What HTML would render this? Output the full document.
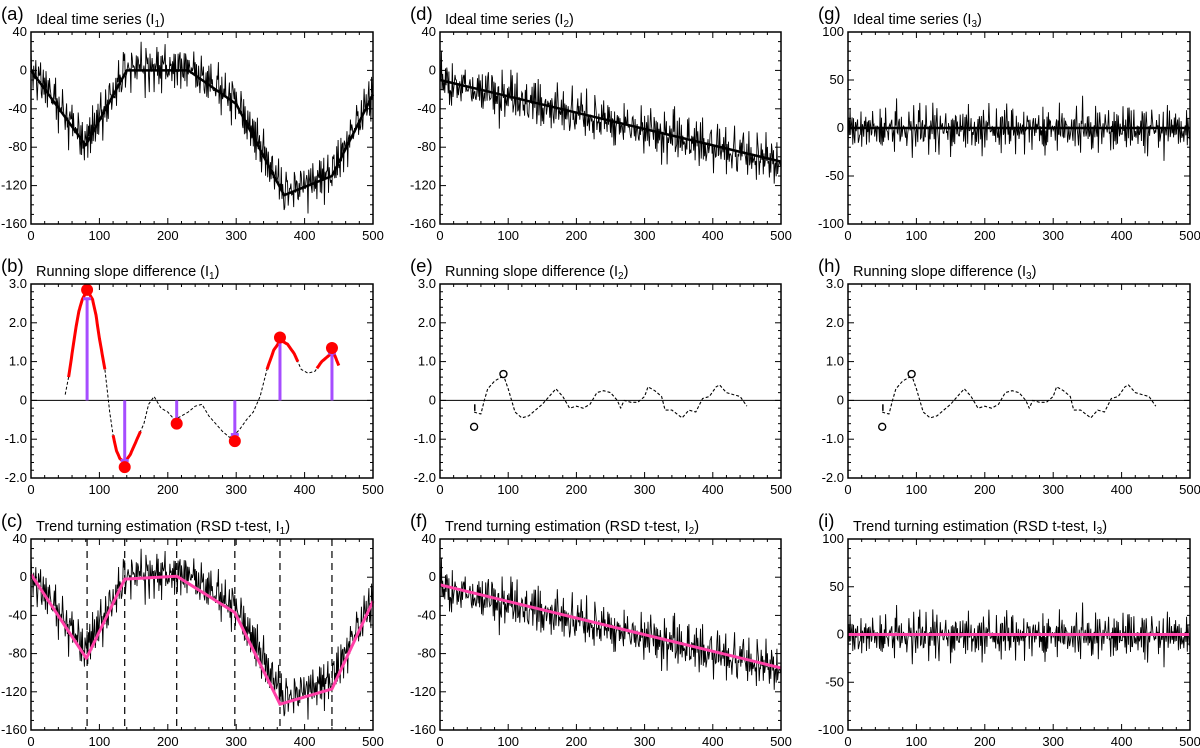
<!DOCTYPE html>
<html><head><meta charset="utf-8">
<style>
html,body{margin:0;padding:0;background:#fff;}
svg{display:block;font-family:"Liberation Sans",sans-serif;}
</style></head>
<body>
<svg id="chart" width="1200" height="748" viewBox="0 0 1200 748"></svg>
<script>
// ---- data ----
const xTicks = [0,100,200,300,400,500];
const yTicksTS = [40,0,-40,-80,-120,-160];
const yTicksI3 = [100,50,0,-50,-100];
const yTicksRSD = [3,2,1,0,-1,-2];
const yTicksRSDLabels = ["3.0","2.0","1.0","0","-1.0","-2.0"];
// noise texture
const noise = [18,-6,4,-12,9,-20,3,14,-8,-15,6,22,-4,-10,12,-3,-18,7,16,-9,2,-14,11,5,-22,8,-2,19,-11,4,-7,13,-16,1,10,-5,24,-13,6,-1,-19,15,-8,3,9,-12,20,-6,-3,11,-17,5,14,-10,2,-21,7,17,-4,-9,12,-14,0,8,-6,21,-11,4,-18,13,6,-2,-15,10,-7,16,-12,3,-20,9,1,-8,18,-13,5,-4,12,-16,7,-1,23,-10,-5,14,-19,8,2,-11,15,-6,-9,6,19,-14,3,-17,11,0,-7,13,-3,-12,16,-21,9,4,-8,17,-15,2,10,-5,-18,7,14,-9,1,-13,20,-6,-2,12,-16,5,-10,18,-4,8,-19,11,3,-12,15,-7,-1,9,-22,13,6,-15,4,17,-8,-3,11,-14,7,21,-10,2,-17,12,-5,8,-11,16,-2,-20,10,5,-13,14,-6,-9,19,-16,3,7,-4,12,-18,9,-1,-12,15,-8,22,-14,4,-6,11,-19,6,13,-3,-10,17,-15,1,8,-7,14,-21,10,-2,5,-12,18,-9,3,-16,13,-4,7,-11,20,-13,0,9,-17,12,6,-8,-3,16,-14,4,11,-20,8,-5,15,-10,2,-7,19,-12,5];
// trend breakpoints
const i1IdealX = [0,80,140,230,300,370,440,500];
const i1IdealY = [0,-78,0,0,-35,-130,-110,-25];
const i1FitX = [0,81,137,213,298,364,440,500];
const i1FitY = [3,-85,-2,1,-37,-133,-117,-25];
const i2X = [0,500];
const i2Y = [-10,-95];
const i3X = [0,500];
const i3Y = [0,0];
// running slope difference I1
const rsd1X = [50,55,60,65,70,75,82,90,95,100,108,115,120,125,130,137,145,155,165,172,180,190,200,210,220,230,240,250,260,270,280,290,297,305,315,325,335,345,355,365,375,385,395,405,415,425,435,442,450];
const rsd1Y = [0.15,0.6,1.2,1.8,2.3,2.6,2.85,2.6,2.2,1.6,0.8,-0.3,-0.9,-1.3,-1.5,-1.6,-1.4,-1.0,-0.6,-0.1,0.1,-0.2,-0.3,-0.5,-0.4,-0.3,-0.15,-0.1,-0.4,-0.6,-0.8,-0.95,-0.9,-0.75,-0.5,-0.3,0.1,0.8,1.3,1.55,1.45,1.2,0.8,0.7,0.75,1.0,1.15,1.25,0.9];
const rsd1RedRanges = [[55,108],[120,160],[345,390],[418,450]];
const turnX = [82,137,213,298,364,440];
const turnDotY = [2.85,-1.72,-0.6,-1.05,1.62,1.35];
const turnBarY = [2.62,-1.55,-0.5,-0.88,1.55,1.22];
// running slope difference I2/I3
const rsd2X = [50,55,60,65,70,80,90,95,100,105,110,120,130,140,150,160,170,180,190,200,210,220,230,240,250,260,265,270,280,290,300,305,315,325,330,340,355,365,375,385,395,405,410,420,430,440,450];
const rsd2Y = [-0.3,-0.33,-0.35,0,0.3,0.5,0.6,0.55,0.3,0,-0.3,-0.45,-0.4,-0.25,-0.1,0.1,0.3,0.1,-0.2,-0.15,-0.2,-0.1,0.2,0.25,0.2,0,-0.2,0,-0.05,-0.05,0.1,0.35,0.25,0.1,-0.25,-0.25,-0.45,-0.25,-0.3,0.05,0.1,0.35,0.4,0.2,0.15,0.1,-0.15];
const rsd2CircX = [50,93];
const rsd2CircY = [-0.68,0.68];

const NS = "http://www.w3.org/2000/svg";
const svg = document.getElementById("chart");
function el(tag, attrs, parent){const e=document.createElementNS(NS,tag);for(const k in attrs)e.setAttribute(k,attrs[k]);(parent||svg).appendChild(e);return e;}
function interp(xs,ys,x){for(let i=0;i<xs.length-1;i++){if(x>=xs[i]&&x<=xs[i+1]){const t=(x-xs[i])/(xs[i+1]-xs[i]);return ys[i]+t*(ys[i+1]-ys[i]);}}return ys[ys.length-1];}

function panel(cfg){
  const g = el("g",{});
  
  
  const sx = v => cfg.x0 + (v-0)/(500-0)*(cfg.x1-cfg.x0);
  const sy = v => cfg.y0 + (cfg.ymax-v)/(cfg.ymax-cfg.ymin)*(cfg.y1-cfg.y0);
  cfg.sx=sx; cfg.sy=sy; cfg.g=g;
  const lt = el("text",{x:cfg.x0-30,y:cfg.y0-12,"font-size":18.5,fill:"#000"},g); lt.textContent=cfg.letter;
  
  
  const tt = el("text",{x:cfg.x0+5,y:cfg.y0-8,"font-size":14.5,fill:"#000"},g);
  tt.innerHTML = cfg.title;
  
  
  for(let v=0; v<=500; v+=20){
    const major = v%100===0;
    const L = major?6:3;
    el("line",{x1:sx(v),x2:sx(v),y1:cfg.y1,y2:cfg.y1-L,stroke:"#000","stroke-width":1},g);
    el("line",{x1:sx(v),x2:sx(v),y1:cfg.y0,y2:cfg.y0+L,stroke:"#000","stroke-width":1},g);
  }
  xTicks.forEach(v=>{const t=el("text",{x:sx(v),y:cfg.y1+16,"font-size":13,"text-anchor":"middle"},g);t.textContent=v;
    
    });
  const step = cfg.minor;
  for(let v=cfg.ymin; v<=cfg.ymax+1e-9; v+=step){
    const major = cfg.yTicks.some(m=>Math.abs(m-v)<1e-6);
    const L = major?6:3;
    el("line",{x1:cfg.x0,x2:cfg.x0+L,y1:sy(v),y2:sy(v),stroke:"#000","stroke-width":1},g);
    el("line",{x1:cfg.x1,x2:cfg.x1-L,y1:sy(v),y2:sy(v),stroke:"#000","stroke-width":1},g);
  }
  cfg.yTicks.forEach((v,i)=>{const t=el("text",{x:cfg.x0-4,y:sy(v)+4,"font-size":13,"text-anchor":"end"},g);t.textContent=cfg.yLabels?cfg.yLabels[i]:v;
    
    });
  return cfg;
}
function frame(cfg){
  const r = el("rect",{x:cfg.x0,y:cfg.y0,width:cfg.x1-cfg.x0,height:cfg.y1-cfg.y0,fill:"none",stroke:"#000","stroke-width":1.5},cfg.g);
  
  
}
function noisy(cfg, tx, ty, scale, offset, name){
  let d="";
  const N = noise.length;
  for(let i=0;i<=500;i++){
    const x=i;
    const n=(noise[(i+offset)%N]*0.8 + noise[(i*7+offset*3+11)%N]*0.55 + noise[(Math.floor(i/3)+offset+37)%N]*0.35)*scale;
    const y=interp(tx,ty,x)+n;
    d+=(i?"L":"M")+cfg.sx(x).toFixed(1)+","+cfg.sy(Math.max(cfg.ymin,Math.min(cfg.ymax,y))).toFixed(1);
  }
  const p=el("path",{d:d,fill:"none",stroke:"#000","stroke-width":0.9},cfg.g);
  
  
}
function poly(cfg, xs, ys, color, w, name, dash){
  const d = xs.map((x,i)=>(i?"L":"M")+cfg.sx(x).toFixed(1)+","+cfg.sy(ys[i]).toFixed(1)).join("");
  const a={d:d,fill:"none",stroke:color,"stroke-width":w,"stroke-linejoin":"round"};
  if(dash)a["stroke-dasharray"]=dash;
  const p=el("path",a,cfg.g);
  
  
}
function zeroLine(cfg){
  const l=el("line",{x1:cfg.x0,x2:cfg.x1,y1:cfg.sy(0),y2:cfg.sy(0),stroke:"#000","stroke-width":1},cfg.g);
  
  
}

const cols = [[31,373],[440,781],[848,1190]];
const rows = [[32,224],[284,478],[539,730]];

let A = panel({name:"panel-a",letter:"(a)",title:'Ideal time series (I<tspan font-size="10" dy="3">1</tspan><tspan dy="-3">)</tspan>',x0:cols[0][0],x1:cols[0][1],y0:rows[0][0],y1:rows[0][1],ymin:-160,ymax:40,yTicks:yTicksTS,minor:10});
noisy(A,i1IdealX,i1IdealY,1,0,"series-i1-noisy");
poly(A,i1IdealX,i1IdealY,"#000",2.5,"trend-i1-ideal");
frame(A);
let D = panel({name:"panel-d",letter:"(d)",title:'Ideal time series (I<tspan font-size="10" dy="3">2</tspan><tspan dy="-3">)</tspan>',x0:cols[1][0],x1:cols[1][1],y0:rows[0][0],y1:rows[0][1],ymin:-160,ymax:40,yTicks:yTicksTS,minor:10});
noisy(D,i2X,i2Y,1,80,"series-i2-noisy");
poly(D,i2X,i2Y,"#000",2.5,"trend-i2-ideal");
frame(D);
let G = panel({name:"panel-g",letter:"(g)",title:'Ideal time series (I<tspan font-size="10" dy="3">3</tspan><tspan dy="-3">)</tspan>',x0:cols[2][0],x1:cols[2][1],y0:rows[0][0],y1:rows[0][1],ymin:-100,ymax:100,yTicks:yTicksI3,minor:10});
noisy(G,i3X,i3Y,1.05,160,"series-i3-noisy");
poly(G,i3X,i3Y,"#000",2.5,"trend-i3-ideal");
frame(G);

let B = panel({name:"panel-b",letter:"(b)",title:'Running slope difference (I<tspan font-size="10" dy="3">1</tspan><tspan dy="-3">)</tspan>',x0:cols[0][0],x1:cols[0][1],y0:rows[1][0],y1:rows[1][1],ymin:-2,ymax:3,yTicks:yTicksRSD,yLabels:yTicksRSDLabels,minor:0.2});
zeroLine(B);
poly(B,rsd1X,rsd1Y,"#000",1,"rsd-i1-line","3,2");
rsd1RedRanges.forEach(r=>{
  const xs=[],ys=[];
  for(let x=r[0];x<=r[1];x+=1){xs.push(x);ys.push(interp(rsd1X,rsd1Y,x));}
  poly(B,xs,ys,"#f00",3,"rsd-i1-significant");
});
turnX.forEach((x,i)=>{
  const b=el("line",{x1:B.sx(x),x2:B.sx(x),y1:B.sy(0),y2:B.sy(turnBarY[i]),stroke:"#a64dff","stroke-width":3},B.g);
  
  
  const cap=el("line",{x1:B.sx(x)-4,x2:B.sx(x)+4,y1:B.sy(turnBarY[i]),y2:B.sy(turnBarY[i]),stroke:"#a64dff","stroke-width":3},B.g);
  
  
  const c=el("circle",{cx:B.sx(x),cy:B.sy(turnDotY[i]),r:6,fill:"#f00"},B.g);
  
  
});
frame(B);

function rsdPanel(name,letter,idx,col){
  let P = panel({name:name,letter:letter,title:'Running slope difference (I<tspan font-size="10" dy="3">'+idx+'</tspan><tspan dy="-3">)</tspan>',x0:cols[col][0],x1:cols[col][1],y0:rows[1][0],y1:rows[1][1],ymin:-2,ymax:3,yTicks:yTicksRSD,yLabels:yTicksRSDLabels,minor:0.2});
  zeroLine(P);
  poly(P,rsd2X,rsd2Y,"#000",1.1,"rsd-line","3,2");
  const m=el("line",{x1:P.sx(51),x2:P.sx(51),y1:P.sy(-0.1),y2:P.sy(-0.27),stroke:"#000","stroke-width":1.5},P.g);
  
  
  rsd2CircX.forEach((x,i)=>{
    const c=el("circle",{cx:P.sx(x),cy:P.sy(rsd2CircY[i]),r:3.5,fill:"#fff",stroke:"#000","stroke-width":1.4},P.g);
    
    
  });
  frame(P);
}
rsdPanel("panel-e","(e)",2,1);
rsdPanel("panel-h","(h)",3,2);

let C = panel({name:"panel-c",letter:"(c)",title:'Trend turning estimation (RSD t-test, I<tspan font-size="10" dy="3">1</tspan><tspan dy="-3">)</tspan>',x0:cols[0][0],x1:cols[0][1],y0:rows[2][0],y1:rows[2][1],ymin:-160,ymax:40,yTicks:yTicksTS,minor:10});
noisy(C,i1IdealX,i1IdealY,1,0,"series-i1-noisy");
turnX.forEach(x=>{
  const l=el("line",{x1:C.sx(x),x2:C.sx(x),y1:C.y0,y2:C.y1,stroke:"#000","stroke-width":1.2,"stroke-dasharray":"7,5"},C.g);
  
  
});
poly(C,i1FitX,i1FitY,"#ff3fa6",3,"fitted-trend-i1");
frame(C);
let F = panel({name:"panel-f",letter:"(f)",title:'Trend turning estimation (RSD t-test, I<tspan font-size="10" dy="3">2</tspan><tspan dy="-3">)</tspan>',x0:cols[1][0],x1:cols[1][1],y0:rows[2][0],y1:rows[2][1],ymin:-160,ymax:40,yTicks:yTicksTS,minor:10});
noisy(F,i2X,i2Y,1,80,"series-i2-noisy");
poly(F,[0,500],[-8,-95],"#ff3fa6",3,"fitted-trend-i2");
frame(F);
let I = panel({name:"panel-i",letter:"(i)",title:'Trend turning estimation (RSD t-test, I<tspan font-size="10" dy="3">3</tspan><tspan dy="-3">)</tspan>',x0:cols[2][0],x1:cols[2][1],y0:rows[2][0],y1:rows[2][1],ymin:-100,ymax:100,yTicks:yTicksI3,minor:10});
noisy(I,i3X,i3Y,1.05,160,"series-i3-noisy");
poly(I,[0,500],[0,0],"#ff3fa6",3,"fitted-trend-i3");
frame(I);
</script>
</body></html>
